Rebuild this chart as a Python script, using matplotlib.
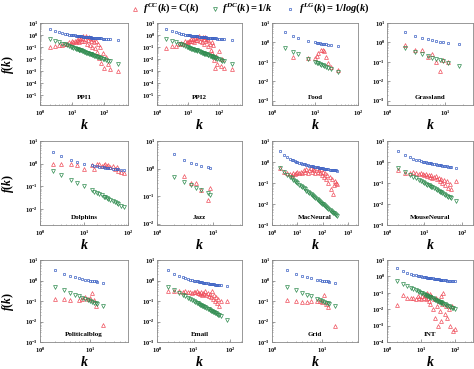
import matplotlib
matplotlib.use('Agg')
import matplotlib.pyplot as plt
from matplotlib.lines import Line2D
from matplotlib.ticker import LogLocator, NullFormatter, LogFormatterSciNotation

plt.rcParams.update({
    'font.family': ['Liberation Serif', 'DejaVu Serif'],
    'font.weight': 'bold',
    'mathtext.fontset': 'custom',
    'mathtext.rm': 'Liberation Serif:bold',
    'mathtext.it': 'Liberation Serif:italic:bold',
    'mathtext.bf': 'Liberation Serif:bold',
})

nan = float('nan')

# ---------------- data ----------------
ppi_k = [2, 3, 4, 5, 6, 7, 8, 9, 10, 11, 12, 13, 14, 15, 16, 17, 18, 19, 20,
         22, 24, 26, 28, 30, 32, 34, 36, 38, 40,
         43, 46, 50, 54, 58, 62, 66, 70, 75, 80, 90, 100, 115, 130, 150, 270]
ppi1_cc = [0.10, 0.12, 0.14, 0.16, 0.20, 0.18, 0.25, 0.22, 0.30, 0.26, 0.35, 0.28, 0.40, 0.30, 0.55, 0.25, 0.45, 0.60, 0.35,
           0.80, 0.30, 0.50, 0.90, 0.20, 0.40, 0.70, 0.15, 0.60, 0.35,
           0.10, 0.50, 0.25, 0.08, 0.30, 0.04, 0.20, 0.012, 0.10, 0.005, 0.03, 0.002, 0.015, 0.004, 0.0015, 0.001]
ppi2_cc = [0.09, 0.13, 0.12, 0.18, 0.22, 0.20, 0.30, 0.25, 0.28, 0.35, 0.30, 0.45, 0.32, 0.50, 0.28, 0.60, 0.38, 0.70, 0.40,
           0.90, 0.35, 0.55, 0.25, 0.75, 0.45, 0.20, 0.65, 0.30, 0.50,
           0.12, 0.40, 0.20, 0.06, 0.25, 0.03, 0.15, 0.008, 0.002, 0.02, 0.004, 0.05, 0.003, 0.01, 0.002, 0.0015]
ppi_dc = [0.5, 0.333, 0.25, 0.2, 0.167, 0.143, 0.125, 0.111, 0.1, 0.0909, 0.0833, 0.0769, 0.0714, 0.0667, 0.0625, 0.0588, 0.0556, 0.0526, 0.05,
          0.0455, 0.0417, 0.0385, 0.0357, 0.0333, 0.0313, 0.0294, 0.0278, 0.0263, 0.025,
          0.0233, 0.0217, 0.02, 0.0185, 0.0172, 0.0161, 0.0152, 0.0143, 0.0133, 0.0125, 0.0111, 0.01, 0.0087, 0.00769, 0.00667, 0.0037]
ppi_lg = [3.322, 2.096, 1.661, 1.431, 1.285, 1.183, 1.107, 1.048, 1.0, 0.960, 0.927, 0.898, 0.873, 0.850, 0.830, 0.813, 0.797, 0.782, 0.769,
          0.745, 0.725, 0.707, 0.691, 0.677, 0.664, 0.653, 0.643, 0.633, 0.624,
          0.612, 0.601, 0.589, 0.577, 0.567, 0.558, 0.550, 0.542, 0.533, 0.525, 0.512, 0.5, 0.485, 0.473, 0.460, 0.411]

food_k = [2, 3, 4, 7, 10, 11, 12, 13, 14, 15, 16, 18, 20, 24, 34]
food_cc = [nan, 0.18, nan, 0.15, 0.15, 0.2, 0.28, nan, 0.4, 0.4, 0.35, 0.17, 0.09, 0.056, 0.04]
food_dc = [0.5, 0.333, 0.25, 0.143, 0.1, 0.0909, 0.0833, 0.0769, 0.0714, 0.0667, 0.0625, 0.0556, 0.05, 0.0417, 0.0294]
food_lg = [3.322, 2.096, 1.661, 1.183, 1.0, 0.960, 0.927, 0.898, 0.873, 0.850, 0.830, 0.797, 0.769, 0.725, 0.653]

grass_k = [2, 3, 4, 5, 6, 7, 8, 9, 11, 17]
grass_cc = [0.75, 0.4, 0.4, 0.18, 0.25, 0.1, 0.035, 0.12, 0.1, nan]
grass_dc = [0.5, 0.333, 0.25, 0.2, 0.167, 0.143, 0.125, 0.111, 0.0909, 0.0588]
grass_lg = [3.322, 2.096, 1.661, 1.431, 1.285, 1.183, 1.107, 1.048, 0.960, 0.813]

dolph_k = [2, 3, 5, 7, 10, 15, 17, 20, 22, 25, 28, 30, 34, 36, 40, 46, 50, 55, 60, 70, 80]
dolph_cc = [1.0, 1.0, 1.0, 0.9, 0.6, 0.9, 0.6, 0.95, 1.0, 0.8, 0.9, 1.0, 0.8, 0.9, 0.7, 0.8, 0.6, 0.7, 0.5, 0.45, 0.4]
dolph_dc = [0.5, 0.333, 0.2, 0.143, 0.1, 0.0667, 0.0588, 0.05, 0.0455, 0.04, 0.0357, 0.0333, 0.0294, 0.0278, 0.025, 0.0217, 0.02, 0.0182, 0.0167, 0.0143, 0.0125]
dolph_lg = [3.322, 2.096, 1.431, 1.183, 1.0, 0.850, 0.813, 0.769, 0.745, 0.715, 0.691, 0.677, 0.653, 0.643, 0.624, 0.601, 0.589, 0.575, 0.562, 0.542, 0.525]

jazz_k = [2, 3, 4, 5, 6, 8, 9]
jazz_cc = [nan, 0.55, 0.3, 0.3, 0.17, 0.07, 0.2]
jazz_dc = [0.5, 0.333, 0.25, 0.2, 0.167, 0.125, 0.111]
jazz_lg = [3.322, 2.096, 1.661, 1.431, 1.285, 1.107, 1.048]

mac_k = [2, 3, 4, 5, 6, 7, 8, 9, 10, 12, 14, 16, 18, 20,
         23, 26, 30, 34, 38, 42, 47, 52, 58, 64, 70, 78, 86, 95,
         105, 115, 125, 140, 155, 170, 190, 210, 230, 255, 280, 310, 340, 370]
mac_cc = [0.5, 0.35, 0.3, 0.28, 0.25, 0.3, 0.28, 0.3, 0.32, 0.3, 0.35, 0.3, 0.4, 0.35,
          0.45, 0.3, 0.4, 0.5, 0.35, 0.45, 0.4, 0.3, 0.5, 0.35, 0.4, 0.3, 0.45, 0.25,
          0.35, 0.2, 0.3, 0.15, 0.25, 0.1, 0.2, 0.05, 0.15, 0.03, 0.08, 0.12, 0.1, 0.09]
mac_dc = [0.5, 0.333, 0.25, 0.2, 0.167, 0.143, 0.125, 0.111, 0.1, 0.0833, 0.0714, 0.0625, 0.0556, 0.05,
          0.0435, 0.0385, 0.0333, 0.0294, 0.0263, 0.0238, 0.0213, 0.0192, 0.0172, 0.0156, 0.0143, 0.0128, 0.0116, 0.0105,
          0.00952, 0.0087, 0.008, 0.00714, 0.00645, 0.00588, 0.00526, 0.00476, 0.00435, 0.00392, 0.00357, 0.00323, 0.00294, 0.0027]
mac_lg = [3.322, 2.096, 1.661, 1.431, 1.285, 1.183, 1.107, 1.048, 1.0, 0.927, 0.873, 0.830, 0.797, 0.769,
          0.734, 0.707, 0.677, 0.653, 0.633, 0.616, 0.598, 0.583, 0.567, 0.554, 0.542, 0.529, 0.517, 0.506,
          0.495, 0.485, 0.477, 0.466, 0.457, 0.448, 0.439, 0.431, 0.423, 0.416, 0.409, 0.401, 0.395, 0.389]

mouse_k = [2, 3, 4, 5, 6, 7, 8, 9, 10, 11, 12, 13, 14, 15, 16,
           18, 20, 22, 24, 26, 28, 30, 33, 36, 40, 44, 48, 52, 70]
mouse_cc = [0.4, 0.3, 0.3, 0.32, 0.3, 0.28, 0.3, 0.27, 0.25, 0.28, 0.22, 0.25, 0.2, 0.24, 0.18,
            0.2, 0.22, 0.15, 0.18, 0.12, 0.16, 0.1, 0.14, 0.08, 0.12, 0.06, 0.09, 0.05, 0.12]
mouse_dc = [0.5, 0.333, 0.25, 0.2, 0.167, 0.143, 0.125, 0.111, 0.1, 0.0909, 0.0833, 0.0769, 0.0714, 0.0667, 0.0625,
            0.0556, 0.05, 0.0455, 0.0417, 0.0385, 0.0357, 0.0333, 0.0303, 0.0278, 0.025, 0.0227, 0.0208, 0.0192, 0.0143]
mouse_lg = [3.322, 2.096, 1.661, 1.431, 1.285, 1.183, 1.107, 1.048, 1.0, 0.960, 0.927, 0.898, 0.873, 0.850, 0.830,
            0.797, 0.769, 0.745, 0.725, 0.707, 0.691, 0.677, 0.659, 0.643, 0.624, 0.608, 0.595, 0.583, 0.542]

pb_k = [2, 3, 4, 5, 6, 7, 8, 9, 10, 11, 12, 13, 14, 18]
pb_cc = [0.13, 0.13, 0.11, nan, 0.11, 0.13, 0.15, 0.12, 0.14, 0.25, 0.11, 0.06, nan, 0.007]
pb_dc = [0.5, 0.333, 0.25, 0.2, 0.167, 0.143, 0.125, 0.111, 0.1, 0.0909, 0.0833, 0.0769, 0.0714, 0.0556]
pb_lg = [3.322, 2.096, 1.661, 1.431, 1.285, 1.183, 1.107, 1.048, 1.0, 0.960, 0.927, 0.898, 0.873, 0.797]

email_k = [2, 3, 4, 5, 6, 7, 8, 9, 10, 11, 12, 13, 14, 15, 16, 17, 18, 19, 20,
           22, 24, 26, 28, 30, 32, 34, 36, 38, 40, 43, 46, 50, 55, 80]
email_cc = [0.3, 0.32, 0.3, 0.28, 0.3, 0.27, 0.28, 0.25, 0.27, 0.26, 0.3, 0.24, 0.25, 0.22, 0.28, 0.2, 0.25, 0.22, 0.3,
            0.2, 0.25, 0.18, 0.22, 0.15, 0.3, 0.12, 0.2, 0.1, 0.15, 0.08, 0.12, 0.06, 0.1, 0.1]
email_dc = [0.5, 0.333, 0.25, 0.2, 0.167, 0.143, 0.125, 0.111, 0.1, 0.0909, 0.0833, 0.0769, 0.0714, 0.0667, 0.0625, 0.0588, 0.0556, 0.0526, 0.05,
            0.0455, 0.0417, 0.0385, 0.0357, 0.0333, 0.0313, 0.0294, 0.0278, 0.0263, 0.025, 0.0233, 0.0217, 0.02, 0.0182, 0.0125]
email_lg = [3.322, 2.096, 1.661, 1.431, 1.285, 1.183, 1.107, 1.048, 1.0, 0.960, 0.927, 0.898, 0.873, 0.850, 0.830, 0.813, 0.797, 0.782, 0.769,
            0.745, 0.725, 0.707, 0.691, 0.677, 0.664, 0.653, 0.643, 0.633, 0.624, 0.612, 0.601, 0.589, 0.575, 0.525]

grid_k = [2, 3, 4, 5, 6, 8, 9, 10, 11, 12, 13, 14, 18]
grid_cc = [0.11, 0.1, 0.09, 0.09, 0.1, 0.1, 0.1, 0.09, 0.2, 0.07, 0.05, nan, 0.006]
grid_dc = [0.5, 0.333, 0.25, 0.2, 0.167, 0.125, 0.111, 0.1, 0.0909, 0.0833, 0.0769, 0.0714, 0.0556]
grid_lg = [3.322, 2.096, 1.661, 1.431, 1.285, 1.107, 1.048, 1.0, 0.960, 0.927, 0.898, 0.873, 0.797]

int_k = [2, 3, 4, 5, 6, 7, 8, 9, 10, 11, 12, 13, 14, 15, 16, 17, 18, 19, 20,
         22, 24, 26, 28, 30, 32, 34, 36, 38, 40,
         43, 46, 50, 55, 60, 65, 70, 80, 90, 100]
int_cc = [0.018, 0.07, 0.05, 0.045, 0.05, 0.04, 0.06, 0.05, 0.04, 0.06, 0.05, 0.07, 0.04, 0.1, 0.05, 0.03, 0.08, 0.02, 0.06,
          0.01, 0.04, 0.003, 0.05, 0.015, 0.001, 0.03, 0.008, 0.06, 0.002,
          0.02, 0.1, 0.005, 0.015, 0.003, 0.01, 0.001, 0.015, 0.0005, 0.0006]
int_dc = [0.5, 0.333, 0.25, 0.2, 0.167, 0.143, 0.125, 0.111, 0.1, 0.0909, 0.0833, 0.0769, 0.0714, 0.0667, 0.0625, 0.0588, 0.0556, 0.0526, 0.05,
          0.0455, 0.0417, 0.0385, 0.0357, 0.0333, 0.0313, 0.0294, 0.0278, 0.0263, 0.025,
          0.0233, 0.0217, 0.02, 0.0182, 0.0167, 0.0154, 0.0143, 0.0125, 0.0111, 0.01]
int_lg = [3.322, 2.096, 1.661, 1.431, 1.285, 1.183, 1.107, 1.048, 1.0, 0.960, 0.927, 0.898, 0.873, 0.850, 0.830, 0.813, 0.797, 0.782, 0.769,
          0.745, 0.725, 0.707, 0.691, 0.677, 0.664, 0.653, 0.643, 0.633, 0.624,
          0.612, 0.601, 0.589, 0.575, 0.562, 0.552, 0.542, 0.525, 0.512, 0.5]

names = ['PPI1', 'PPI2', 'Food', 'Grassland',
         'Dolphins', 'Jazz', 'MacNeural', 'MouseNeural',
         'Politicalblog', 'Email', 'Grid', 'INT']
legend_labels = [r'$f^{CC}(k) = \mathrm{C}(k)$', r'$f^{DC}(k) = 1/k$', r'$f^{LG}(k) = 1/log(k)$']

# --------------- layout / style ----------------
W, H = 474, 369
RED, GREEN, BLUE = '#ef4d5a', '#2e8b4e', '#3d62c4'

series = [
    (ppi_k, ppi1_cc, ppi_dc, ppi_lg), (ppi_k, ppi2_cc, ppi_dc, ppi_lg),
    (food_k, food_cc, food_dc, food_lg), (grass_k, grass_cc, grass_dc, grass_lg),
    (dolph_k, dolph_cc, dolph_dc, dolph_lg), (jazz_k, jazz_cc, jazz_dc, jazz_lg),
    (mac_k, mac_cc, mac_dc, mac_lg), (mouse_k, mouse_cc, mouse_dc, mouse_lg),
    (pb_k, pb_cc, pb_dc, pb_lg), (email_k, email_cc, email_dc, email_lg),
    (grid_k, grid_cc, grid_dc, grid_lg), (int_k, int_cc, int_dc, int_lg),
]
xlims = [(1, 560), (1, 560), (1, 100), (1, 30),
         (1, 100), (1, 33), (1, 2500), (1, 200),
         (1, 57), (1, 210), (1, 52), (1, 340)]
ylims = [(1.6e-6, 10), (1.6e-6, 10), (6e-4, 10), (6e-4, 10),
         (2e-3, 10), (9e-3, 10), (1e-3, 10), (1e-3, 10),
         (1e-3, 10), (1e-3, 10), (1e-3, 10), (1e-4, 10)]

col_x = [40, 157, 272, 387]
col_w = [88, 85, 86, 86]
row_top = [23, 141, 260]
row_bot = [105, 225, 342]

fig = plt.figure(figsize=(W / 100, H / 100), dpi=100)

for i, (k, cc, dc, lg) in enumerate(series):
    r, c = divmod(i, 4)
    ax = fig.add_axes([col_x[c] / W, 1 - row_bot[r] / H, col_w[c] / W, (row_bot[r] - row_top[r]) / H])
    ax.set_xscale('log')
    ax.set_yscale('log')
    ax.plot(k, cc, ls='none', marker='^', ms=2.8, mfc='none', mec=RED, mew=0.5)
    ax.plot(k, dc, ls='none', marker='v', ms=2.8, mfc='none', mec=GREEN, mew=0.5)
    ax.plot(k, lg, ls='none', marker='s', ms=2.1, mfc='none', mec=BLUE, mew=0.5)
    ax.set_xlim(*xlims[i])
    ax.set_ylim(*ylims[i])
    for axis in (ax.xaxis, ax.yaxis):
        axis.set_major_locator(LogLocator(base=10, numticks=20))
        axis.set_minor_locator(LogLocator(base=10, subs=range(2, 10), numticks=20))
        axis.set_minor_formatter(NullFormatter())
        axis.set_major_formatter(LogFormatterSciNotation())
    ax.tick_params(which='both', direction='in', labelsize=4.5, color='#777777')
    ax.tick_params(axis='x', pad=2.5)
    ax.tick_params(axis='y', pad=1.5)
    ax.tick_params(which='major', length=2, width=0.5)
    ax.tick_params(which='minor', length=1, width=0.4)
    for s in ax.spines.values():
        s.set_color('#888888')
        s.set_linewidth(0.6)
    ax.text(0.5, 0.09, names[i], transform=ax.transAxes, ha='center', va='center',
            fontsize=5, fontweight='bold')
    fig.text((col_x[c] + col_w[c] / 2) / W, 1 - (row_bot[r] + 20) / H, r'$k$',
             ha='center', va='center', fontsize=10)

for r in range(3):
    fig.text(8 / W, 1 - ((row_top[r] + row_bot[r]) / 2) / H, r'$f(k)$', rotation=90,
             ha='center', va='center', fontsize=8.5)

# legend row
leg_markers = [('^', RED, 2.8), ('v', GREEN, 2.8), ('s', BLUE, 2.1)]
leg_mx = [135, 215, 290]
leg_tx = [143, 222, 299]
ly = 1 - 8.5 / H
for (m, col, ms), mx, tx, lab in zip(leg_markers, leg_mx, leg_tx, legend_labels):
    fig.add_artist(Line2D([mx / W], [ly], marker=m, ms=ms, mfc='none', mec=col, mew=0.5, ls='none'))
    fig.text(tx / W, ly, lab, ha='left', va='center', fontsize=7.5)

fig.savefig('out.png', dpi=100)
